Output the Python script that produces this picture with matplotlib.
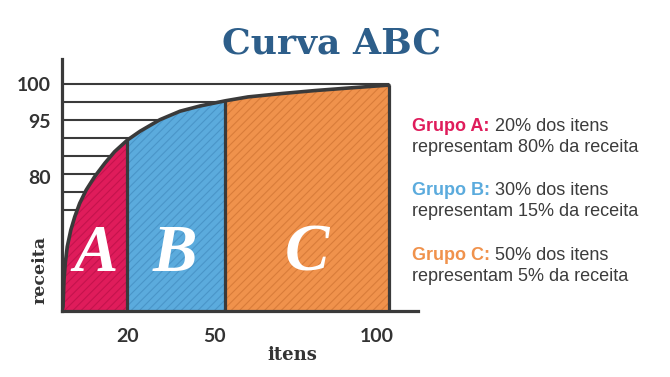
import matplotlib
matplotlib.use("Agg")
import matplotlib.pyplot as plt
import matplotlib.transforms as mtransforms
import numpy as np

# curve: % of items vs % of revenue (schematic)
itens = np.array([0, 0.31, 0.61, 1.0, 1.6, 2.7, 3.9, 5.4, 7.4, 10.0, 13.1, 16.1, 20,
                  23.9, 30.0, 36.1, 42.2, 50, 56.9, 67.3, 77.4, 87.5, 100])
receita = np.array([0, 1.9, 13.7, 21.0, 28.3, 35.7, 41.5, 47.4, 53.3, 59.2, 65.1, 70.2, 75.3,
                    79.2, 84.3, 88.0, 90.3, 92.6, 94.3, 95.8, 97.1, 98.2, 99.5])

limites = [0, 20, 50, 100]
grupos = ["A", "B", "C"]
cores = ["#df1c5b", "#5babdd", "#f0924c"]
cores_hatch = ["#c4134d", "#4a95c8", "#d97c3a"]

xticks = [20, 50, 100]
xtick_labels = ["20", "50", "100"]
yticks = [100, 83.7, 59.0]
ytick_labels = ["100", "95", "80"]
linhas = [100, 92.1, 84.1, 76.2, 68.3, 60.4, 52.4, 44.5]

legenda = [
    ("Grupo A:", " 20% dos itens", "representam 80% da receita"),
    ("Grupo B:", " 30% dos itens", "representam 15% da receita"),
    ("Grupo C:", " 50% dos itens", "representam 5% da receita"),
]

escuro = "#3a3a3a"
plt.rcParams["hatch.linewidth"] = 0.8

fig = plt.figure(figsize=(6.7, 3.77), dpi=100)
ax = fig.add_axes([62 / 670, 66 / 377, 356 / 670, 252 / 377])
ax.set_xlim(0, 108.9)
ax.set_ylim(0, 111)

# horizontal guide lines (covered by the fills below the curve)
ax.hlines(linhas, 0, 100, color=escuro, linewidth=1.5, zorder=1)

for i in range(3):
    a, b = limites[i], limites[i + 1]
    m = (itens >= a) & (itens <= b)
    ax.fill_between(itens[m], 0, receita[m], facecolor=cores[i],
                    edgecolor=cores_hatch[i], linewidth=0, hatch="////", zorder=2)

for b in limites[1:]:
    ax.vlines(b, 0, np.interp(b, itens, receita), color=escuro, linewidth=2.3, zorder=3)

ax.plot(itens, receita, color=escuro, linewidth=2.6, solid_capstyle="round", zorder=4)

letra_x = [10.4, 34.5, 74.9]
for g, lx in zip(grupos, letra_x):
    ax.text(lx, 25, g, color="white", fontsize=48, family="Liberation Serif",
            fontweight="bold", fontstyle="italic", ha="center", va="center", zorder=6)

for s in ["top", "right"]:
    ax.spines[s].set_visible(False)
for s in ["left", "bottom"]:
    ax.spines[s].set_linewidth(2.3)
    ax.spines[s].set_color(escuro)
    ax.spines[s].set_zorder(5)

ax.set_xticks(xticks, xtick_labels)
ax.set_yticks(yticks, ytick_labels)
ax.tick_params(axis="both", length=0, labelsize=14, labelcolor="#333333")
ax.tick_params(axis="x", pad=12)
ax.tick_params(axis="y", pad=8)
for lab in ax.get_xticklabels() + ax.get_yticklabels():
    lab.set_family("Lato")
    lab.set_fontweight("bold")

# in the original the "50" and "100" labels sit a little left of their marks
for lab, dx in zip(ax.get_xticklabels(), [0, -11, -12]):
    lab.set_transform(lab.get_transform()
                      + mtransforms.ScaledTranslation(dx / 100, 0, fig.dpi_scale_trans))

ax.text(0.646, -0.175, "itens", transform=ax.transAxes, ha="center", va="center",
        family="DejaVu Serif", fontweight="bold", fontsize=13, color="#333333")
ax.text(-0.062, 0.163, "receita", transform=ax.transAxes, ha="center", va="center",
        rotation=90, family="DejaVu Serif", fontweight="bold", fontsize=12.5,
        color="#333333")

fig.text(332 / 670, 1 - 53 / 377, "Curva ABC", ha="center", va="baseline",
         family="DejaVu Serif", fontweight="bold", fontsize=26, color="#2d5e8a")

x0 = 412 / 670
for i, (g, resto, linha2) in enumerate(legenda):
    yb = 130.7 + i * 64.7
    t = fig.text(x0, 1 - yb / 377, g, ha="left", va="baseline", family="Liberation Sans",
                 fontweight="bold", fontsize=13, color=cores[i])
    ax.annotate(resto, xy=(1, 0), xycoords=t, ha="left", va="bottom",
                family="Liberation Sans", fontsize=13, color="#3c3c3c",
                annotation_clip=False)
    fig.text(x0, 1 - (yb + 21) / 377, linha2, ha="left", va="baseline",
             family="Liberation Sans", fontsize=13, color="#3c3c3c")

fig.savefig("out.png", dpi=100)
